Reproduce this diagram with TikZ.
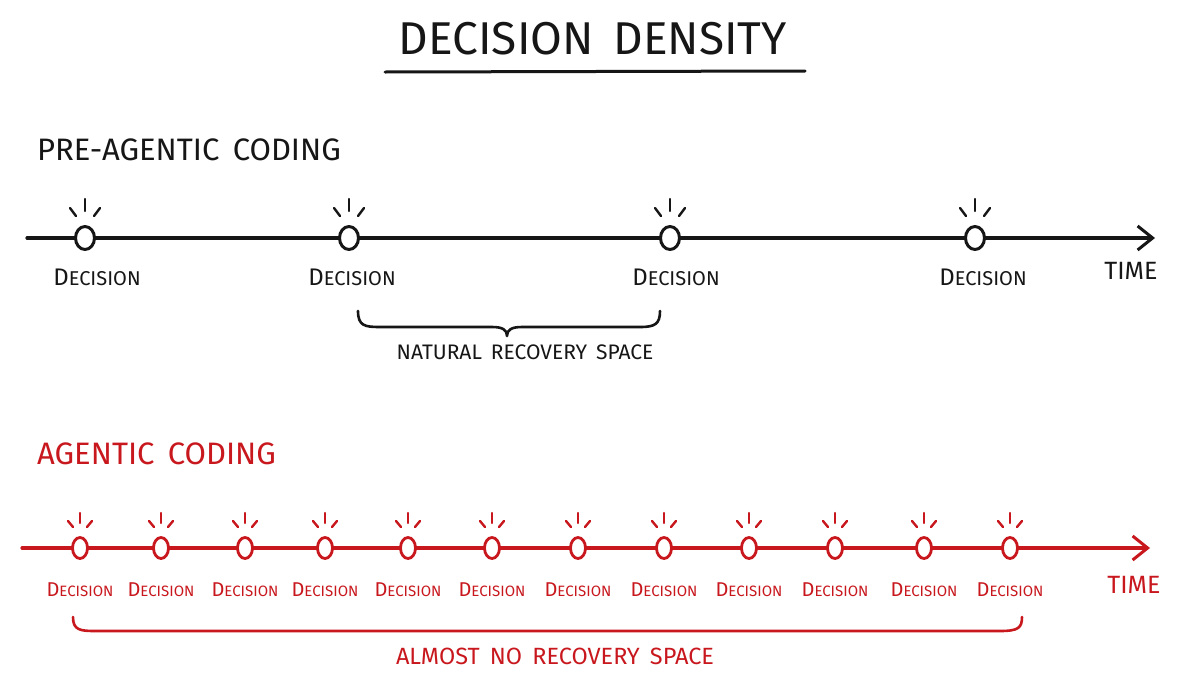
\documentclass[tikz,border=0pt]{standalone}
\usepackage{fontspec}
\setmainfont{Fira Sans}
\usetikzlibrary{positioning, shapes.geometric, arrows.meta}
\definecolor{ink}{RGB}{22,22,22}
\definecolor{inkred}{RGB}{200,24,30}
\newcommand{\decword}[2]{{\fontsize{#1}{#1}\selectfont D}{\fontsize{#2}{#2}\selectfont ECISION}}

\begin{document}
\begin{tikzpicture}[x=1pt,y=-1pt,line cap=round,line join=round,
    timeline/.style={line width=3.2pt,-{Straight Barb[length=15pt,width=24pt,line width=3pt]}},
    bigdot/.style={ellipse,line width=3pt,fill=white,inner sep=0pt,minimum width=19pt,minimum height=23pt},
    smalldot/.style={ellipse,line width=2.8pt,fill=white,inner sep=0pt,minimum width=15pt,minimum height=21pt},
    ray/.style={line width=2.4pt},
    heading/.style={anchor=west,inner sep=0pt,font=\fontsize{31}{31}\selectfont},
    note/.style={inner sep=0pt}]
    \useasboundingbox[fill=white](0,0)rectangle(1200,675);

    % titel
    \node[inner sep=0pt,text=ink,font=\fontsize{46}{46}\selectfont](title)at(593,39){DECISION\ \,DENSITY};
    \coordinate(ul1)at(385,72);\coordinate(ul2)at(805,71);
    \draw[ink,line width=3pt](ul1)--(ul2);

    % pre-agentic
    \node[heading,text=ink](pre)at(37,150){PRE-AGENTIC\ \,CODING};
    \coordinate(a0)at(27,238);\coordinate(aT)at(1155,238);
    \draw[timeline,ink](a0)--(aT);
    \foreach\x/\s[count=\i]in{85/12,349/3,670/6,975/8}{
      \node[bigdot,draw=ink](a\i)at(\x,238){};
      \draw[ray,ink](a\i)++(0,-39)--++(0,12);
      \draw[ray,ink](a\i)++(-15,-30)--++(6,8);
      \draw[ray,ink](a\i)++(15,-30)--++(-6,8);
      \node[note,text=ink,below=18pt of a\i,xshift=\s pt](la\i){\decword{24}{20}};
    }
    \node[note,text=ink,font=\fontsize{25}{25}\selectfont](ta)at(1131,271){TIME};
    \coordinate(b1)at(358,311);\coordinate(b2)at(660,311);
    \draw[ink,line width=2.6pt](b1).. controls (358,326) and (365,327) .. (380,327)--(492,327)
      .. controls (503,327) and (507,330) .. (507,336) .. controls (507,330) and (511,327) .. (522,327)
      --(640,327) .. controls (655,327) and (660,324) .. (b2);
    \node[note,text=ink,font=\fontsize{21}{21}\selectfont](nrs)at(525,352){NATURAL\ \,RECOVERY\ \,SPACE};

    % agentic
    \node[heading,text=inkred](agt)at(37,454){AGENTIC\ \,CODING};
    \coordinate(c0)at(22,548);\coordinate(cT)at(1150,548);
    \draw[timeline,inkred](c0)--(cT);
    \foreach\x[count=\i]in{80,161,245,325,408,492,578,664,749,835,924,1010}{
      \node[smalldot,draw=inkred](c\i)at(\x,548){};
      \draw[ray,inkred](c\i)++(0,-35)--++(0,10);
      \draw[ray,inkred](c\i)++(-12,-27)--++(5,6);
      \draw[ray,inkred](c\i)++(12,-27)--++(-5,6);
      \node[note,text=inkred,below=30pt of c\i,anchor=center](lc\i){\decword{20}{15}};
    }
    \node[note,text=inkred,font=\fontsize{25}{25}\selectfont](tc)at(1134,585){TIME};
    \coordinate(d1)at(73,617);\coordinate(d2)at(1022,617);
    \draw[inkred,line width=2.6pt](d1).. controls (73,630) and (80,631) .. (95,631)
      --(1000,631) .. controls (1018,631) and (1022,628) .. (d2);
    \node[note,text=inkred,font=\fontsize{23.5}{23.5}\selectfont](anr)at(555,656){ALMOST\ \,NO\ \,RECOVERY\ \,SPACE};
\end{tikzpicture}
\end{document}
